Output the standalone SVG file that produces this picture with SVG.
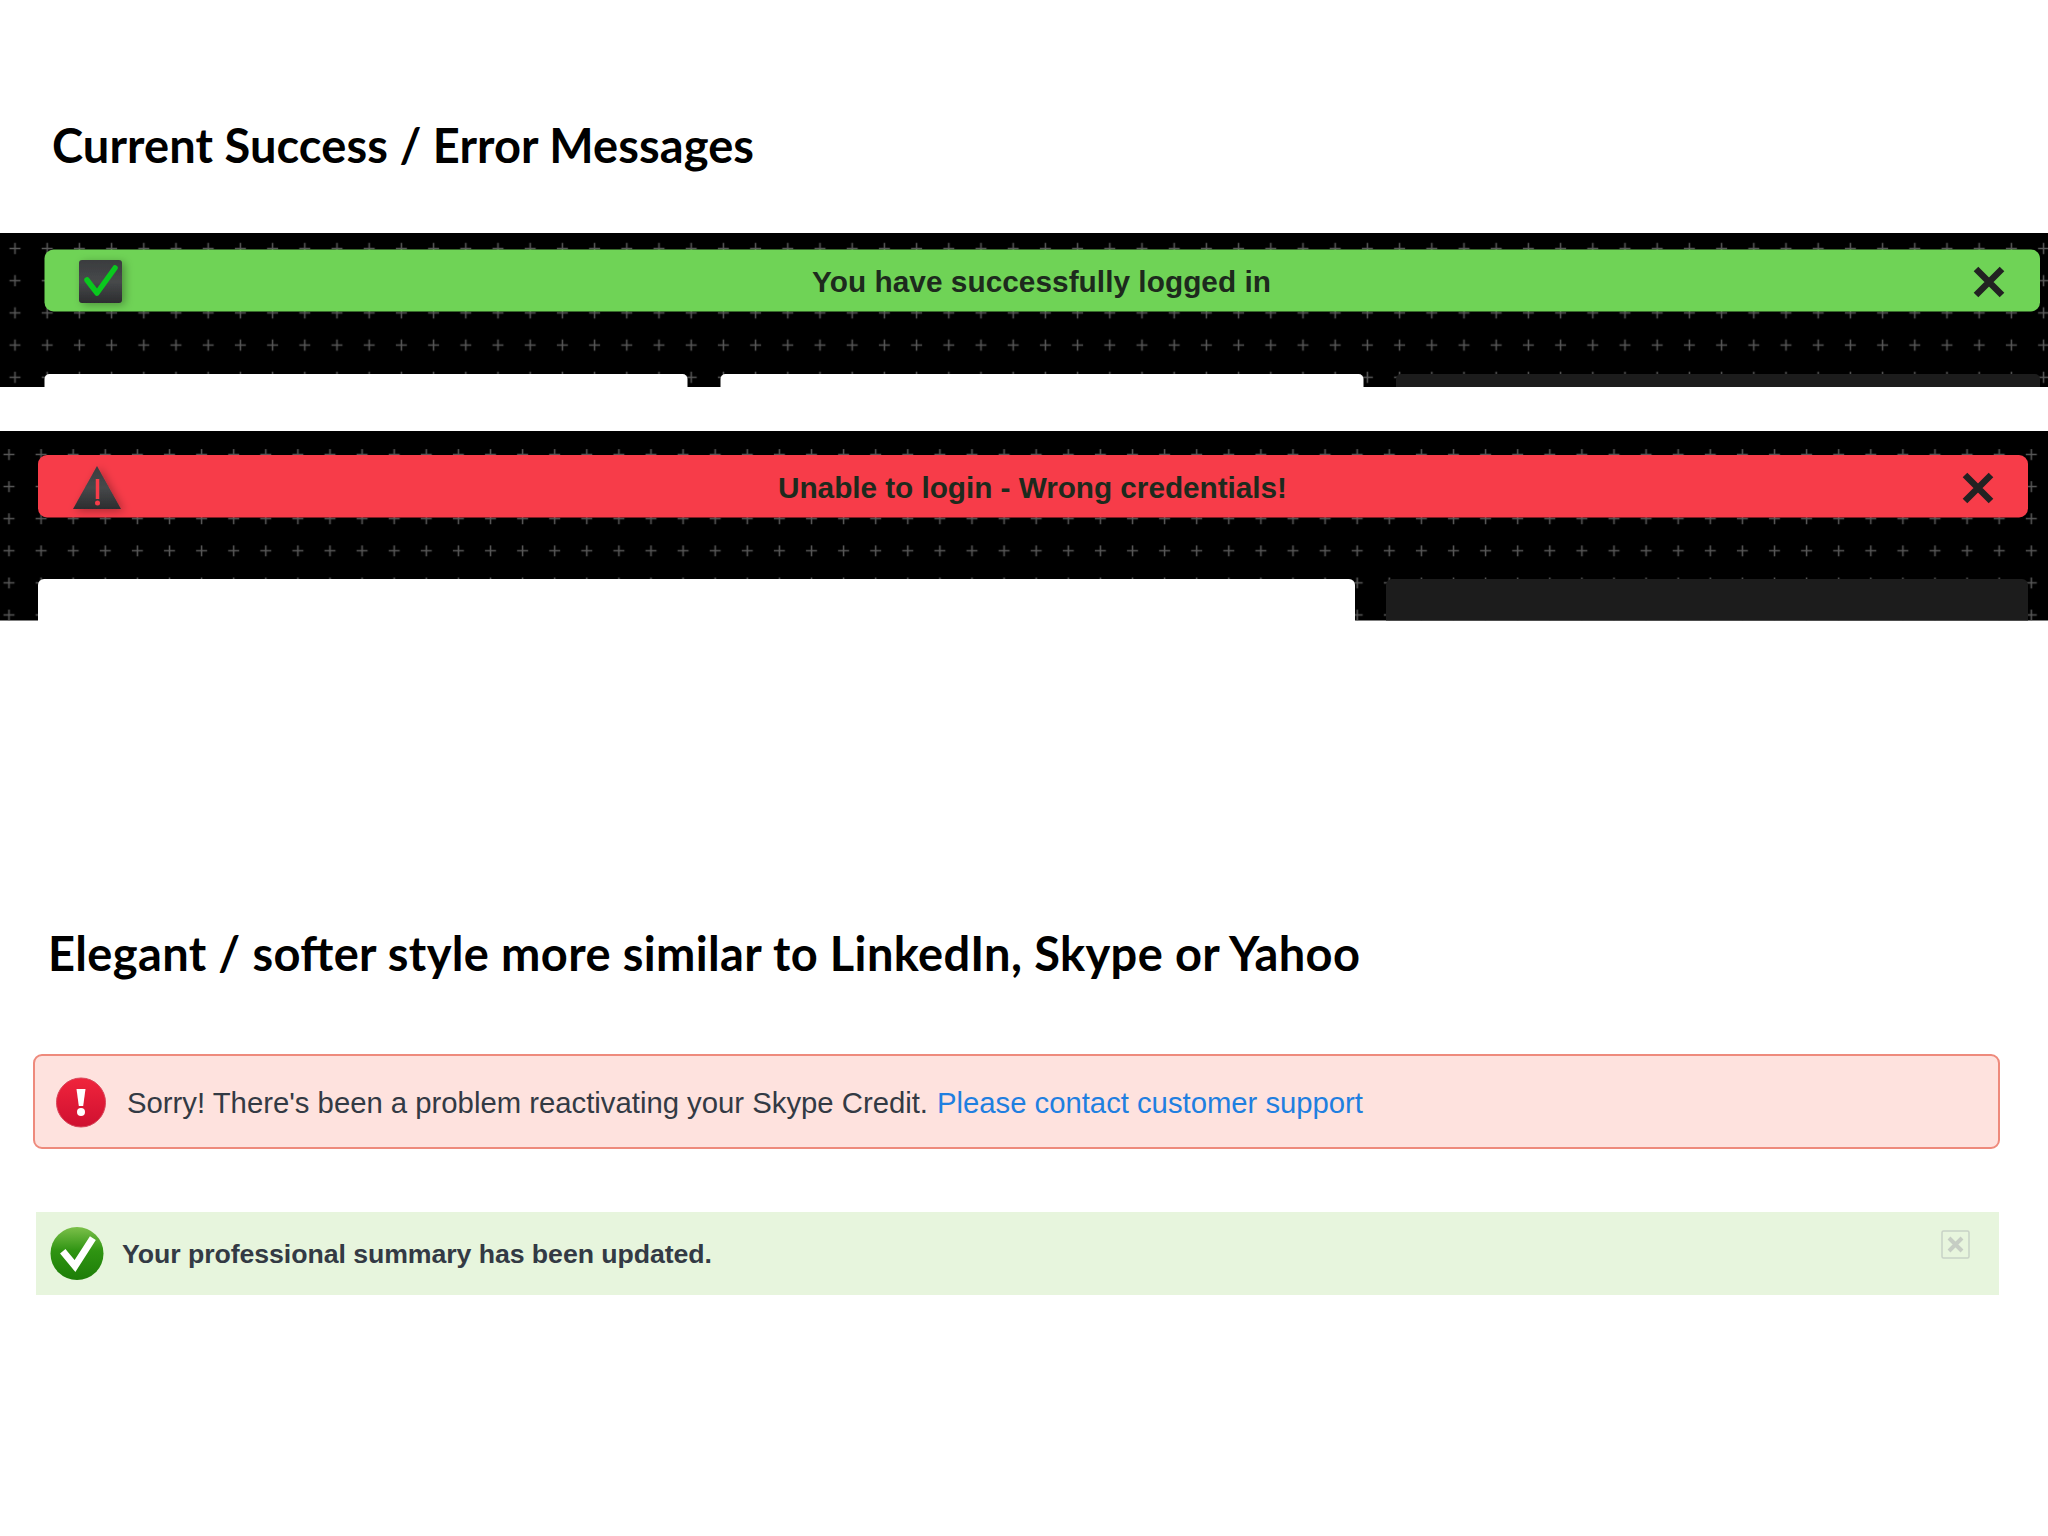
<svg xmlns="http://www.w3.org/2000/svg" width="2048" height="1536" viewBox="0 0 2048 1536">
<style>
.title{font-family:"Lato","Liberation Sans",sans-serif;font-weight:700;font-size:47px;fill:#000}
.bar{font-family:"Liberation Sans",Arial,sans-serif;font-weight:700;font-size:29.800px;fill:#1d2a1d}
.soft{font-family:"Liberation Sans",Arial,sans-serif;font-size:29.300px;fill:#333a44}
.x{stroke:#222;stroke-width:6.500;fill:none}
.card{fill:#fff}.darkcard{fill:#1c1c1c}
.plus{stroke:#585858;stroke-width:1.500;fill:none}
</style>
<defs>
<pattern id="g1" patternUnits="userSpaceOnUse" x="-1.100" y="232.400" width="32.200" height="32.200"><path class="plus" d="M10.600 16.100H21.600M16.100 10.600V21.600"/></pattern>
<pattern id="g2" patternUnits="userSpaceOnUse" x="-7.100" y="438.400" width="32.100" height="32.100"><path class="plus" d="M10.600 16.100H21.600M16.100 10.600V21.600"/></pattern>
<linearGradient id="dk" x1="0" y1="0" x2="0" y2="1"><stop offset="0" stop-color="#3a3c3e"/><stop offset=".5" stop-color="#47494b"/><stop offset="1" stop-color="#2c2d2f"/></linearGradient>
<linearGradient id="rd" x1="0" y1="0" x2="0" y2="1"><stop offset="0" stop-color="#f0243c"/><stop offset="1" stop-color="#cf1030"/></linearGradient>
<linearGradient id="gr" x1="0" y1="0" x2="0" y2="1"><stop offset="0" stop-color="#7cc04a"/><stop offset=".45" stop-color="#2f9412"/><stop offset="1" stop-color="#1d7d08"/></linearGradient>
<filter id="sh" x="-30%" y="-30%" width="170%" height="170%"><feDropShadow dx="3" dy="2" stdDeviation="4" flood-color="#000" flood-opacity=".3"/></filter>
</defs>
<rect width="2048" height="1536" fill="#fff"/>
<g id="title-current"><text class="title" x="52" y="163" textLength="702" lengthAdjust="spacing">Current Success / Error Messages</text></g>
<g id="success-banner">
<rect x="0" y="233" width="2048" height="154" fill="#000"/>
<rect x="0" y="233" width="2048" height="154" fill="url(#g1)"/>
<rect class="card" x="44.500" y="374" width="643" height="20" rx="5"/>
<rect class="card" x="720.500" y="374" width="643" height="20" rx="5"/>
<path class="darkcard" d="M1396 387V379a5 5 0 0 1 5-5H2035a5 5 0 0 1 5 5V387Z"/>
<rect x="0" y="387" width="2048" height="8" fill="#fff"/>
<rect x="44.500" y="249.500" width="1995.500" height="62" rx="9" fill="#6fd356"/>
<rect x="79" y="260" width="43" height="43" rx="3" fill="url(#dk)" filter="url(#sh)"/>
<path d="M87 280L97 293L115 268" fill="none" stroke="#0ac81e" stroke-width="5.500" stroke-linecap="round" stroke-linejoin="round"/>
<text class="bar" x="812" y="292" textLength="459" lengthAdjust="spacing">You have successfully logged in</text>
<path class="x" d="M1976 269L2002 295M2002 269L1976 295"/>
</g>
<g id="error-banner">
<rect x="0" y="431" width="2048" height="189.500" fill="#000"/>
<rect x="0" y="431" width="2048" height="189.500" fill="url(#g2)"/>
<path class="card" d="M38 622V585a6 6 0 0 1 6-6H1349a6 6 0 0 1 6 6V622Z"/>
<path class="darkcard" d="M1386 620.500V585a6 6 0 0 1 6-6H2022a6 6 0 0 1 6 6V620.500Z"/>
<rect x="38" y="455" width="1990" height="62.500" rx="9" fill="#f73c49"/>
<path d="M97 466L121 509H73Z" fill="url(#dk)" filter="url(#sh)"/>
<path d="M97.500 479V499" stroke="#f73c49" stroke-width="3.500"/><circle cx="97.500" cy="503" r="2.500" fill="#f73c49"/>
<text class="bar" x="778" y="498" textLength="509" lengthAdjust="spacing">Unable to login - Wrong credentials!</text>
<path class="x" d="M1965 475L1991 501M1991 475L1965 501"/>
</g>
<g id="title-elegant"><text class="title" x="48" y="971" textLength="1312" lengthAdjust="spacing">Elegant / softer style more similar to LinkedIn, Skype or Yahoo</text></g>
<g id="soft-error">
<rect x="34" y="1055" width="1965" height="93" rx="8" fill="#fee2de" stroke="#ee8a7c" stroke-width="2"/>
<circle cx="81" cy="1102.500" r="24.500" fill="url(#rd)" stroke="#d8475a" stroke-width="1"/>
<path d="M76.500 1089h9l-2.300 17h-4.400Z" fill="#fff"/><circle cx="81" cy="1112" r="4" fill="#fff"/>
<text class="soft" x="127" y="1113" textLength="801" lengthAdjust="spacing">Sorry! There's been a problem reactivating your Skype Credit.</text>
<text class="soft" x="937" y="1113" textLength="426" lengthAdjust="spacing" style="fill:#1f7fe0">Please contact customer support</text>
</g>
<g id="soft-success">
<rect x="36" y="1212" width="1963" height="83" fill="#e7f5dd"/>
<circle cx="77" cy="1253.500" r="26.500" fill="url(#gr)"/>
<path d="M65 1254L75 1266L91 1241" fill="none" stroke="#fff" stroke-width="7" stroke-linecap="square" stroke-linejoin="miter"/>
<text class="soft" x="122" y="1263" textLength="590" lengthAdjust="spacing" style="font-weight:700;font-size:26.700px">Your professional summary has been updated.</text>
<rect x="1942" y="1231" width="27" height="27" rx="1.500" fill="none" stroke="#c8d2c6" stroke-width="1.500"/>
<path d="M1949 1238L1962 1251M1962 1238L1949 1251" stroke="#c6cdc4" stroke-width="4" fill="none"/>
</g>
</svg>
